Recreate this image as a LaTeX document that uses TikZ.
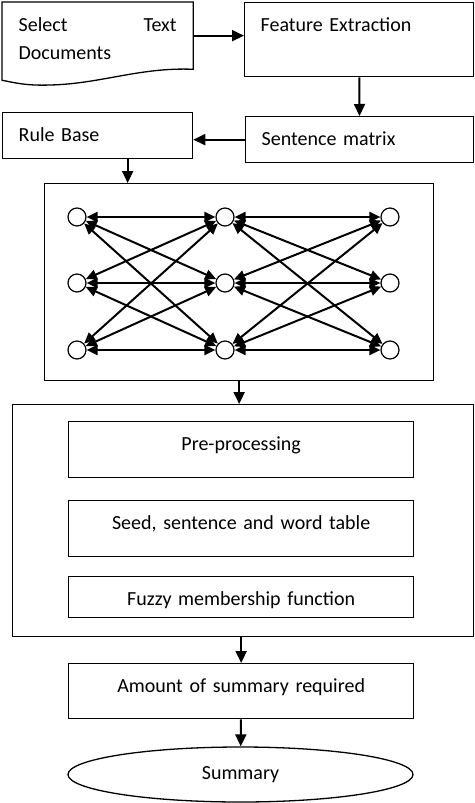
\documentclass[tikz,border=0pt]{standalone}
\usepackage{fontspec}
\setmainfont{Carlito}
\usetikzlibrary{shapes.geometric,arrows.meta,positioning}

\begin{document}
\begin{tikzpicture}[x=1pt,y=-1pt]

\tikzstyle{box} = [rectangle, draw=black, line width=1.3pt, anchor=north west, inner xsep=16pt, inner ysep=0pt, text height=28.5pt, align=left, font=\fontsize{20}{28}\selectfont]
\tikzstyle{stage} = [box, align=center, text width=313pt]
\tikzstyle{neuron} = [circle, draw=black, line width=1.2pt, minimum size=18pt, inner sep=0pt]
\tikzstyle{arrow} = [line width=2pt, -{Triangle[length=12pt,width=11pt]}]
\tikzstyle{link} = [line width=2pt, {Triangle[length=11pt,width=10pt]}-{Triangle[length=11pt,width=10pt]}]

\useasboundingbox (0,0) rectangle (474,803);

\node (select) [box, draw=none, text width=158pt, text depth=37.5pt] at (2,2) {Select\hfill Text\\Documents};
\draw [line width=1.3pt] (select.south east) -- (select.north east) -- (select.north west) -- ([yshift=-11pt]select.south west) .. controls (12,82) and (25,86) .. (50,85) .. controls (100,84) and (140,67) .. (select.south east) -- cycle;
\node (feat) [box, text width=197pt, text depth=45.5pt] at (244,2) {Feature Extraction};
\node (sent) [box, text width=196pt, text depth=17.5pt] at (245,116) {Sentence matrix};
\node (rule) [box, text width=158pt, text depth=17.5pt] at (2,112) {Rule Base};

% network
\node (net) [rectangle, draw=black, line width=1.3pt, minimum width=389pt, minimum height=197pt, anchor=north west] at (44,183) {};
\node (a1) [neuron] at (77,217) {};
\node (a2) [neuron] at (77,283) {};
\node (a3) [neuron] at (77,350) {};
\node (b1) [neuron] at (225,217) {};
\node (b2) [neuron] at (225,283) {};
\node (b3) [neuron] at (225,350) {};
\node (c1) [neuron] at (390,217) {};
\node (c2) [neuron] at (390,283) {};
\node (c3) [neuron] at (390,350) {};

\draw [link] (a1) -- (b1);
\draw [link] (a1) -- (b2);
\draw [link] (a1) -- (b3);
\draw [link] (a2) -- (b1);
\draw [link] (a2) -- (b2);
\draw [link] (a2) -- (b3);
\draw [link] (a3) -- (b1);
\draw [link] (a3) -- (b2);
\draw [link] (a3) -- (b3);
\draw [link] (b1) -- (c1);
\draw [link] (b1) -- (c2);
\draw [link] (b1) -- (c3);
\draw [link] (b2) -- (c1);
\draw [link] (b2) -- (c2);
\draw [link] (b2) -- (c3);
\draw [link] (b3) -- (c1);
\draw [link] (b3) -- (c2);
\draw [link] (b3) -- (c3);

% processing block
\node (big) [rectangle, draw=black, line width=1.3pt, minimum width=461pt, minimum height=232pt, anchor=north west] at (12,404) {};
\node (pre) [stage, text depth=27.5pt] at (68,421) {Pre-processing};
\node (seed) [stage, text depth=27.5pt] at (68,500) {Seed, sentence and word table};
\node (fuzzy) [stage, text depth=12.5pt] at (68,576) {Fuzzy membership function};
\node (amount) [stage, text depth=26.5pt] at (68,663) {Amount of summary required};
\node (summary) [ellipse, draw=black, line width=1.3pt, minimum width=345pt, minimum height=55pt, font=\fontsize{20}{28}\selectfont] at (240.5,774.5) {Summary};

\draw [arrow] (select.east) -- (select.east -| feat.west);
\draw [arrow] (feat) -- (sent);
\draw [arrow] (sent.west) -- (sent.west -| rule.east);
\draw [arrow] ([xshift=30pt]rule.south) -- ([xshift=30pt]rule.south |- net.north);
\draw [arrow] (net.south) -- (net.south |- big.north);
\draw [arrow] (big.south -| amount.north) -- (amount.north);
\draw [arrow] (amount) -- (summary);

\end{tikzpicture}
\end{document}
